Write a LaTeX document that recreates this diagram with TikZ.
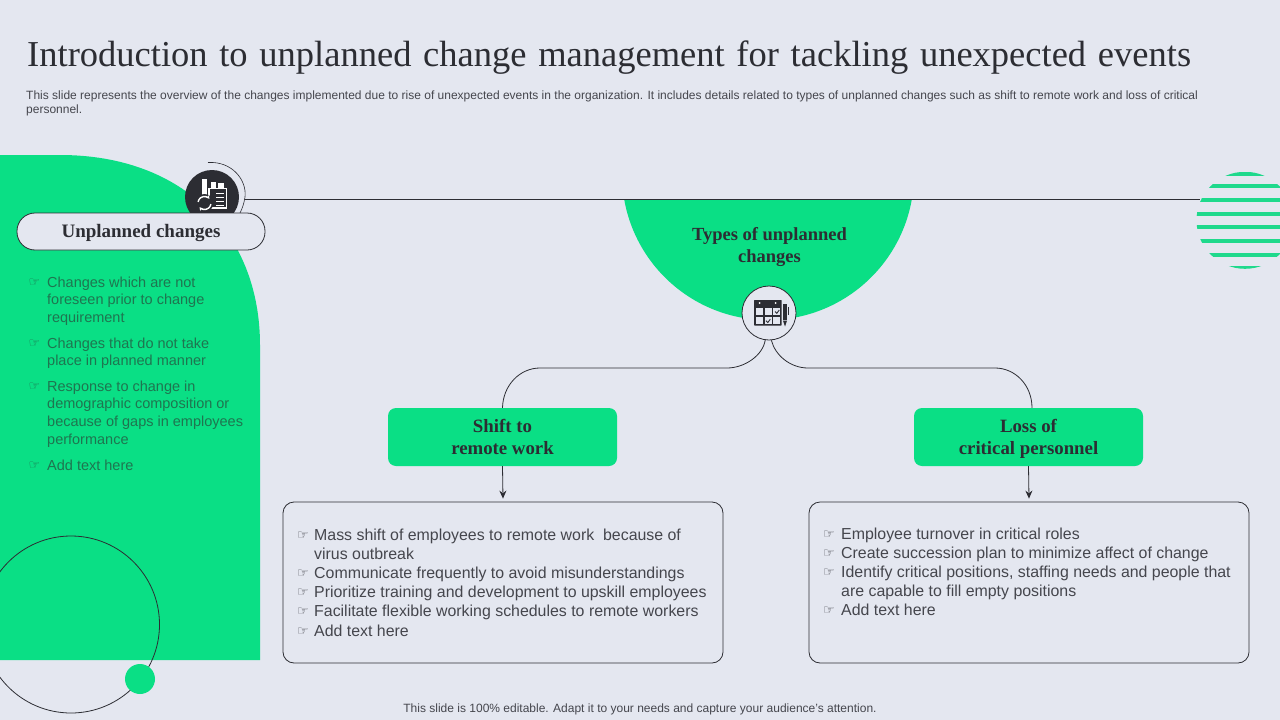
\documentclass[tikz,border=0pt]{standalone}
\usepackage{fontspec}
\usetikzlibrary{arrows.meta}
\setmainfont{Liberation Sans}
\newfontfamily\serifface{Liberation Serif}
\newfontfamily\handface{DejaVu Sans}
\definecolor{pagebg}{HTML}{E4E7F0}
\definecolor{brightgreen}{HTML}{0ADF85}
\definecolor{stripegreen}{HTML}{1FD98C}
\definecolor{inkdark}{HTML}{2C2D33}
\definecolor{inkgreen}{HTML}{1F7550}
\definecolor{inkgrey}{HTML}{45464D}
\newcommand{\bodysize}[2]{\fontsize{#1}{#2}\selectfont}
\tikzset{
  headbox/.style={fill=brightgreen,rounded corners=8pt,minimum width=229pt,minimum height=58pt,text depth=0pt,
    align=center,text=inkdark,font=\serifface\bfseries\bodysize{18.8}{22}},
  listbox/.style={draw=inkdark,line width=0.8pt,rounded corners=11pt,minimum width=440pt,minimum height=161pt},
  lefttext/.style={anchor=north west,inner sep=0pt,align=left,text=inkgreen,font=\bodysize{14.5}{17.6}},
  maintext/.style={anchor=north west,inner sep=0pt,align=left,text=inkgrey,font=\bodysize{15.9}{19}},
  lefthand/.style={inner sep=0pt,text=inkgreen,font=\handface\bfseries\bodysize{13}{13}},
  mainhand/.style={inner sep=0pt,text=inkgrey,font=\handface\bfseries\bodysize{13}{13}},
  rule/.style={draw=inkdark,line width=0.8pt},
}
\begin{document}
\begin{tikzpicture}[x=1pt,y=-1pt]
  \useasboundingbox (0,0) rectangle (1280,720);
  \fill[pagebg] (0,0) rectangle (1280,720);

  \node[anchor=west,inner sep=0pt,text=inkdark,font=\serifface\bodysize{36.5}{40}] (title) at (27,58)
    {\spaceskip=11.7pt Introduction to unplanned change management for tackling unexpected events};
  \node[anchor=north west,inner sep=0pt,align=left,text=inkgrey,font=\bodysize{12}{14}] (subtitle) at (26,91)
    {This slide represents the overview of the changes implemented due to rise of unexpected events in the organization. It includes details related to types of unplanned changes such as shift to remote work and loss of critical\\personnel.};
  \node[inner sep=0pt,text=inkgrey,font=\bodysize{12}{14}] (footer) at (640,709)
    {This slide is 100\% editable. Adapt it to your needs and capture your audience's attention.};

  \fill[brightgreen] (0,155) -- (60,155) .. controls (185,155) and (260,235) .. (260,345)
    -- (260,660) -- (0,660) -- cycle;
  \draw[rule] (71,624.5) circle [radius=88.5];
  \node[circle,fill=brightgreen,minimum size=30pt,inner sep=0pt] (dot) at (140,679) {};

  \begin{scope}
    \clip (600,199) rectangle (940,340);
    \fill[brightgreen] (768,174) circle [radius=146];
  \end{scope}
  \begin{scope}
    \clip (1245,220.3) circle [radius=48.5];
    \foreach \y in {173.7,186,200,214,227,241,255,268}
      \fill[stripegreen] (1190,\y-2) rectangle (1280,\y+2);
  \end{scope}

  \coordinate (ruleleft) at (245,199);
  \coordinate (ruleright) at (1200,199);
  \draw[rule] (ruleleft) -- (ruleright);

  \node[circle,fill=inkdark,minimum size=54pt,inner sep=0pt] (charticon) at (212,197) {};
  \draw[rule,line width=0.6pt] (208,162.5) .. controls (232,161) and (247,180) .. (245,197)
    .. controls (244,204) and (242,209) .. (240,213);
  \fill[white] (202,179) rectangle (207,201);
  \fill[white] (211,182) rectangle (216,190);
  \fill[white] (218,183) rectangle (224,190);
  \draw[white,line width=1.3pt,fill=inkdark] (209,188.5) rectangle (226.5,208);
  \foreach \y in {193,197,201,205}
    \draw[white,line width=1pt] (216,\y) -- (224,\y);
  \fill[inkdark] (204.5,203) circle [radius=9];
  \draw[white,line width=1.4pt,-{Stealth[length=3.5pt,width=4pt]}] ([shift={(190:6.5)}]204.5,203)
    arc [start angle=190,end angle=320,radius=6.5];
  \draw[white,line width=1.4pt,-{Stealth[length=3.5pt,width=4pt]}] ([shift={(10:6.5)}]204.5,203)
    arc [start angle=10,end angle=140,radius=6.5];

  \node[draw=inkdark,line width=0.8pt,fill=pagebg,rounded corners=18pt,minimum width=248pt,minimum height=37pt] (pill) at (141,231.5) {};
  \node[inner sep=0pt,text=inkdark,font=\serifface\bfseries\bodysize{19}{22}] (pilltext) at (141,233) {Unplanned changes};

  \foreach \i/\y/\body in {1/276.5/{Changes which are not\\foreseen prior to change\\requirement},
      2/337.5/{Changes that do not take\\place in planned manner},
      3/380.5/{Response to change in\\demographic composition or\\because of gaps in employees\\performance},
      4/459.5/{Add text here}} {
    \node[lefttext] (leftitem\i) at (47,\y) {\body};
    \node[lefthand] (lefthand\i) at (34.5,\y+6) {☞};
  }

  \node[align=center,inner sep=0pt,text=inkdark,font=\serifface\bfseries\bodysize{18.5}{22}] (typeslabel) at (769.5,247)
    {Types of unplanned\\changes};

  \node[headbox] (shift) at (502.5,437) {Shift to\\remote work};
  \node[headbox] (loss) at (1028.5,437) {Loss of\\critical personnel};
  \node[listbox] (shiftlist) at (503,582.5) {};
  \node[listbox] (losslist) at (1029,582.5) {};

  \node[circle,draw=inkdark,line width=0.8pt,fill=pagebg,minimum size=54pt,inner sep=0pt] (calendar) at (769,313) {};
  \fill[inkdark,rounded corners=0.6pt] (754,300) rectangle (781.7,325.5);
  \foreach \x in {755.7,764.5,773.3} {
    \foreach \y in {308,317.2}
      \fill[pagebg] (\x,\y) rectangle (\x+7,\y+6.7);
  }
  \fill[white] (759.5,303) circle [radius=1] (775.5,303) circle [radius=1];
  \draw[inkdark,line width=0.9pt] (775,311.5) -- (776.8,313.3) -- (779.3,310) (766,320.7) -- (767.8,322.5) -- (770.3,319.2);
  \fill[inkdark] (783,304) rectangle (787,320);
  \fill[inkdark] (783,320.6) -- (787,320.6) -- (785,326.5) -- cycle;
  \draw[inkdark,line width=0.6pt] (788,307) -- (788,315);

  \draw[rule] (calendar.-98) .. controls (763,355) and (745,368) .. (727,368) -- (540,368)
    .. controls (520,368) and (503,385) .. (shift.north);
  \draw[rule] (calendar.-85) .. controls (775,355) and (790,368) .. (808,368) -- (995,368)
    .. controls (1015,368) and (1032,385) .. ([xshift=3.5pt]loss.north);
  \draw[rule,-{Stealth[length=8pt,width=7pt]}] (shift.south) -- ([yshift=3pt]shiftlist.north);
  \draw[rule,-{Stealth[length=8pt,width=7pt]}] (loss.south) -- ([yshift=3pt]losslist.north);

  \foreach \i/\y/\body in {1/529/{Mass shift of employees to remote work~ because of\\virus outbreak},
      2/567/{Communicate frequently to avoid misunderstandings},
      3/586/{Prioritize training and development to upskill employees},
      4/605/{Facilitate flexible working schedules to remote workers},
      5/625/{Add text here}} {
    \node[maintext] (shiftitem\i) at (314,\y) {\body};
    \node[mainhand] (shifthand\i) at (303,\y+7) {☞};
  }
  \foreach \i/\y/\body in {1/528/{Employee turnover in critical roles},
      2/547/{Create succession plan to minimize affect of change},
      3/566/{Identify critical positions, staffing needs and people that\\are capable to fill empty positions},
      4/604/{Add text here}} {
    \node[maintext] (lossitem\i) at (841,\y) {\body};
    \node[mainhand] (losshand\i) at (829,\y+7) {☞};
  }
\end{tikzpicture}
\end{document}
